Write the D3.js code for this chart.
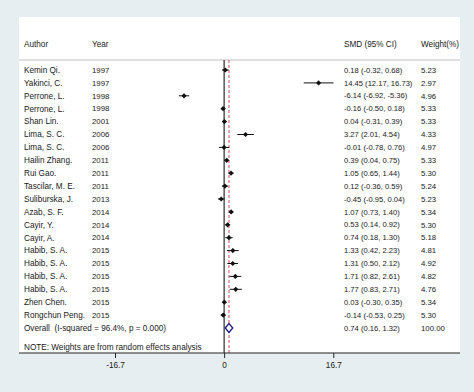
<!DOCTYPE html>
<html><head><meta charset="utf-8">
<script src="https://cdn.jsdelivr.net/npm/d3@7"></script>
<style>body{margin:0;background:#e7eef2;}svg{display:block;}</style>
</head><body><svg id="c" width="474" height="392"></svg>
<script>
const authors = ["Kemin Qi.","Yakinci, C.","Perrone, L.","Perrone, L.","Shan Lin.","Lima, S. C.","Lima, S. C.","Hailin Zhang.","Rui Gao.","Tascilar, M. E.","Suliburska, J.","Azab, S. F.","Cayir, Y.","Cayir, A.","Habib, S. A.","Habib, S. A.","Habib, S. A.","Habib, S. A.","Zhen Chen.","Rongchun Peng."];
const years = ["1997","1997","1998","1998","2001","2006","2006","2011","2011","2011","2013","2014","2014","2014","2015","2015","2015","2015","2015","2015"];
const smd = [0.18,14.45,-6.14,-0.16,0.04,3.27,-0.01,0.39,1.05,0.12,-0.45,1.07,0.53,0.74,1.33,1.31,1.71,1.77,0.03,-0.14];
const lower = [-0.32,12.17,-6.92,-0.50,-0.31,2.01,-0.78,0.04,0.65,-0.36,-0.95,0.73,0.14,0.18,0.42,0.50,0.82,0.83,-0.30,-0.53];
const upper = [0.68,16.73,-5.36,0.18,0.39,4.54,0.76,0.75,1.44,0.59,0.04,1.40,0.92,1.30,2.23,2.12,2.61,2.71,0.35,0.25];
const weights = ["5.23","2.97","4.96","5.33","5.33","4.33","4.97","5.33","5.30","5.24","5.23","5.34","5.30","5.18","4.81","4.92","4.82","4.76","5.34","5.30"];
const overall = {label:"Overall  (I-squared = 96.4%, p = 0.000)", est:0.74, lo:0.16, hi:1.32, weight:"100.00"};
const tickValues = [-16.7, 0, 16.7];
const headers = ["Author","Year","SMD (95% CI)","Weight(%)"];
const note = "NOTE: Weights are from random effects analysis";

const svg = d3.select("#c");
const font = "'Liberation Sans', Arial, sans-serif";
const ink = "#1a1a1a";
const panel = {x0:19, x1:460, y0:17, y1:353};
svg.append("rect").attr("x",panel.x0).attr("y",panel.y0).attr("width",panel.x1-panel.x0).attr("height",panel.y1-panel.y0).attr("fill","#fff");

const x = d3.scaleLinear().domain([-16.7,16.7]).range([115,333.3]);
const y = d3.scaleLinear().domain([0,20]).range([70,328]);
const col = {author:24, year:92, smd:344, weight:421};

const loc = d3.formatLocale({decimal:".", thousands:",", grouping:[3], currency:["",""], minus:"-"});
const fmt = loc.format(".2f");
const ciText = (e,l,h)=>`${fmt(e)} (${fmt(l)}, ${fmt(h)})`;

// header
const hy = 47;
[[headers[0],col.author],[headers[1],col.year],[headers[2],col.smd],[headers[3],col.weight]].forEach(([t,cx])=>{
  svg.append("text").attr("x",cx).attr("y",hy).attr("font-family",font).attr("font-size",8.2).attr("fill",ink).text(t);
});
svg.append("line").attr("x1",panel.x0).attr("x2",panel.x1).attr("y1",60).attr("y2",60).attr("stroke","#d4d4d4").attr("stroke-width",1.5);

// reference lines
svg.append("line").attr("x1",x(0)).attr("x2",x(0)).attr("y1",60).attr("y2",panel.y1).attr("stroke","#555").attr("stroke-width",1.5);
svg.append("line").attr("x1",x(overall.est)).attr("x2",x(overall.est)).attr("y1",60).attr("y2",panel.y1).attr("stroke","#c8505a").attr("stroke-width",1).attr("stroke-dasharray","3,2");

const rows = authors.map((a,i)=>({a, yr:years[i], e:smd[i], l:lower[i], h:upper[i], w:weights[i], i}));
const g = svg.append("g");
rows.forEach(d=>{
  const cy = y(d.i);
  g.append("text").attr("x",col.author).attr("y",cy).attr("dy","0.35em").attr("font-family",font).attr("font-size",8.2).attr("fill",ink).text(d.a);
  g.append("text").attr("x",col.year).attr("y",cy).attr("dy","0.35em").attr("font-family",font).attr("font-size",7.8).attr("fill",ink).text(d.yr);
  g.append("text").attr("x",col.smd).attr("y",cy).attr("dy","0.35em").attr("font-family",font).attr("font-size",7.6).attr("fill",ink).text(ciText(d.e,d.l,d.h));
  g.append("text").attr("x",col.weight).attr("y",cy).attr("dy","0.35em").attr("font-family",font).attr("font-size",7.8).attr("fill",ink).text(d.w);
  g.append("line").attr("x1",x(d.l)).attr("x2",x(d.h)).attr("y1",cy).attr("y2",cy).attr("stroke","#111").attr("stroke-width",1);
  const cx = x(d.e), r=2.6;
  g.append("path").attr("d",`M${cx-r},${cy}L${cx},${cy-r}L${cx+r},${cy}L${cx},${cy+r}Z`).attr("fill","#111");
});

// overall
const oy = y(20);
svg.append("text").attr("x",col.author).attr("y",oy).attr("dy","0.35em").attr("font-family",font).attr("font-size",8.2).attr("fill",ink).style("white-space","pre").text(overall.label);
svg.append("text").attr("x",col.smd).attr("y",oy).attr("dy","0.35em").attr("font-family",font).attr("font-size",7.6).attr("fill",ink).text(ciText(overall.est,overall.lo,overall.hi));
svg.append("text").attr("x",col.weight).attr("y",oy).attr("dy","0.35em").attr("font-family",font).attr("font-size",7.8).attr("fill",ink).text(overall.weight);
svg.append("path").attr("d",`M${x(overall.lo)},${oy}L${x(overall.est)},${oy-4.5}L${x(overall.hi)},${oy}L${x(overall.est)},${oy+4.5}Z`)
  .attr("fill","#fff").attr("stroke","#1c1c7c").attr("stroke-width",1.3);

svg.append("text").attr("x",col.author).attr("y",347).attr("dy","0.35em").attr("font-family",font).attr("font-size",8.2).attr("fill",ink).text(note);

// axis
svg.append("line").attr("x1",panel.x0).attr("x2",panel.x1).attr("y1",panel.y1).attr("y2",panel.y1).attr("stroke","#222").attr("stroke-width",1);
const ax = svg.append("g").attr("transform",`translate(0,${panel.y1})`)
  .call(d3.axisBottom(x).tickValues(tickValues).tickFormat(d=>loc.format("")(d)).tickSize(5).tickSizeOuter(0).tickPadding(4));
ax.select(".domain").remove();
ax.selectAll("line").attr("stroke","#222");
ax.selectAll("text").attr("font-family",font).attr("font-size",8.2).attr("fill",ink);
</script></body></html>
